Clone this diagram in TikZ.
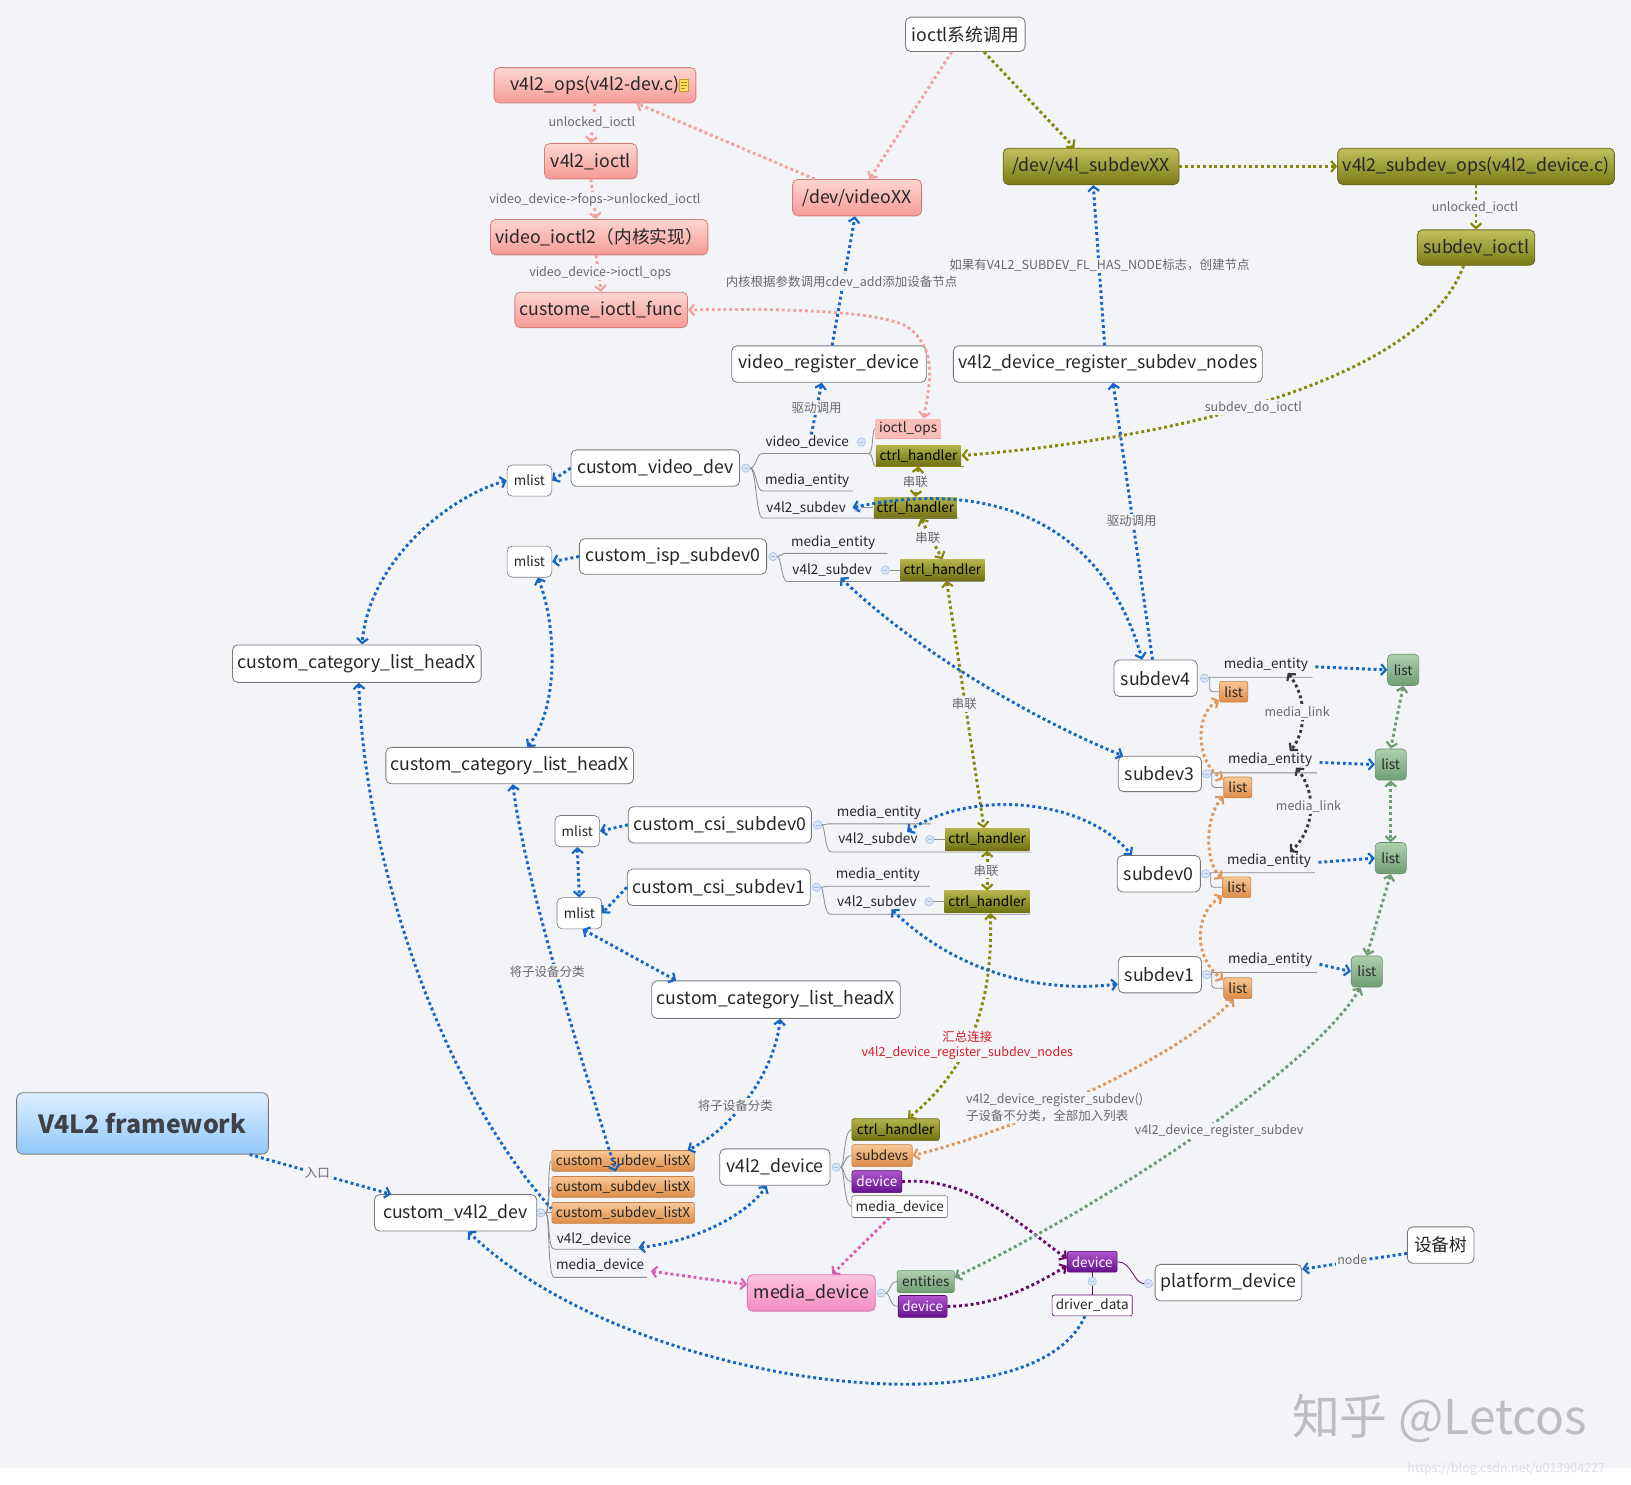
\documentclass[tikz,border=0pt]{standalone}
\usepackage{fontspec}
\setmainfont{Noto Sans CJK SC}
\usetikzlibrary{arrows.meta,calc}
\newcommand\myfs[1]{\fontsize{#1}{#1}\selectfont}
\definecolor{bg}{RGB}{242,244,248}
\definecolor{txt}{RGB}{38,38,38}
\definecolor{boxline}{RGB}{120,120,120}
\definecolor{lbl}{RGB}{105,105,105}
\definecolor{cblue}{RGB}{22,102,195}
\definecolor{cpink}{RGB}{243,160,158}
\definecolor{colive}{RGB}{135,135,10}
\definecolor{corange}{RGB}{225,150,90}
\definecolor{cgreen}{RGB}{110,155,115}
\definecolor{cpurple}{RGB}{105,10,105}
\definecolor{cmag}{RGB}{222,95,175}
\definecolor{cdark}{RGB}{55,55,60}
\definecolor{treec}{RGB}{140,140,140}
\definecolor{pinkT}{RGB}{253,214,208}
\definecolor{pinkB}{RGB}{245,155,150}
\definecolor{pinkD}{RGB}{215,125,120}
\definecolor{oliveT}{RGB}{192,192,95}
\definecolor{oliveB}{RGB}{122,122,22}
\definecolor{oliveD}{RGB}{105,105,25}
\definecolor{ctrlT}{RGB}{180,180,75}
\definecolor{ctrlB}{RGB}{112,112,15}
\definecolor{orT}{RGB}{248,200,150}
\definecolor{orB}{RGB}{220,140,72}
\definecolor{orD}{RGB}{200,128,70}
\definecolor{grT}{RGB}{175,208,175}
\definecolor{grB}{RGB}{112,158,115}
\definecolor{grD}{RGB}{105,145,108}
\definecolor{puT}{RGB}{175,85,205}
\definecolor{puB}{RGB}{100,18,140}
\definecolor{puD}{RGB}{85,10,105}
\definecolor{mdT}{RGB}{252,195,222}
\definecolor{mdB}{RGB}{244,140,195}
\definecolor{mdD}{RGB}{215,120,170}
\definecolor{fwT}{RGB}{222,239,255}
\definecolor{fwB}{RGB}{145,200,250}
\definecolor{mcD}{RGB}{165,190,232}
\definecolor{mcF}{RGB}{218,230,248}
\definecolor{iopF}{RGB}{250,190,186}
\tikzset{
 >={Straight Barb[length=4.6pt,width=10.5pt,line width=2.1pt]},
 conn/.style={line width=2.8pt, dash pattern=on 2.8pt off 2.8pt},
 mbox/.style={draw=boxline, fill=white, rounded corners=5pt, text=txt, font=\myfs{17}, inner sep=0pt, minimum height=35pt, line width=0.8pt},
 pinkbox/.style={mbox, draw=pinkD, top color=pinkT, bottom color=pinkB},
 olivebox/.style={mbox, draw=oliveD, top color=oliveT, bottom color=oliveB},
 sbox/.style={font=\myfs{13}, inner sep=0pt, minimum height=20pt, text=txt, line width=0.6pt},
 ctrlbox/.style={sbox, top color=ctrlT, bottom color=ctrlB, minimum width=81pt, text=black},
 orbox/.style={sbox, rounded corners=2pt, draw=orD, top color=orT, bottom color=orB},
 grbox/.style={sbox, rounded corners=4pt, draw=grD, top color=grT, bottom color=grB, minimum width=30pt, minimum height=30pt},
 pubox/.style={sbox, rounded corners=2pt, draw=puD, top color=puT, bottom color=puB, text=white},
 wsbox/.style={sbox, rounded corners=2pt, draw=boxline, fill=white},
 mlistbox/.style={sbox, rounded corners=5pt, draw=boxline, fill=white, minimum width=43pt, minimum height=30pt},
 subt/.style={font=\myfs{13}, text=txt, inner sep=1pt},
 lab/.style={font=\myfs{12}, text=lbl, fill=bg, inner sep=1.5pt},
 ul/.style={draw=treec, line width=0.8pt},
 mc/.style={circle, draw=mcD, fill=mcF, minimum size=8pt, inner sep=0pt, line width=0.6pt,
   path picture={\draw[mcD, line width=0.7pt] ([xshift=-2pt]path picture bounding box.center) -- ([xshift=2pt]path picture bounding box.center);}},
}
\begin{document}
\begin{tikzpicture}[x=1pt,y=-1pt]
\fill[white] (0,0) rectangle (1568,1427);
\fill[bg] (0,0) rectangle (1568,1411);
\useasboundingbox (0,0) rectangle (1568,1427);

% ---------- top nodes
\node[mbox, minimum width=115pt, minimum height=33pt] (ioctl) at (928,33) {ioctl系统调用};
\node[pinkbox, minimum width=194pt, minimum height=34pt] (v4l2ops) at (572,82) {v4l2\_ops(v4l2-dev.c)\hspace{19pt}};
\node[pinkbox, minimum width=89pt, minimum height=34pt] (v4l2ioctl) at (568,155) {v4l2\_ioctl};
\node[pinkbox, minimum width=209pt, minimum height=34pt] (videoioctl2) at (576,228) {video\_ioctl2（内核实现）};
\node[pinkbox, minimum width=166pt, minimum height=34pt] (custfunc) at (578,298) {custome\_ioctl\_func};
\node[pinkbox, minimum width=124pt] (devvideo) at (824,190) {/dev/videoXX};
\node[olivebox, minimum width=169pt] (devsub) at (1049,160) {/dev/v4l\_subdevXX};
\node[olivebox, minimum width=266pt] (subops) at (1419,160) {v4l2\_subdev\_ops(v4l2\_device.c)};
\node[olivebox, minimum width=113pt, minimum height=34pt] (subioctl) at (1419,238) {subdev\_ioctl};
\node[mbox, minimum width=187pt] (vrd) at (797,350) {video\_register\_device};
\node[mbox, minimum width=297pt] (vdrsn) at (1065,350) {v4l2\_device\_register\_subdev\_nodes};
% note icon
\draw[fill={rgb,255:red,250;green,222;blue,95}, draw={rgb,255:red,195;green,155;blue,40}, line width=0.5pt] (653,76) rectangle (662,88);
\draw[draw={rgb,255:red,175;green,135;blue,30}, line width=0.5pt] (655,79)--(660,79) (655,82)--(660,82) (655,85)--(659,85);

% ---------- custom_video_dev group
\node[mlistbox] (mlist1) at (509,462) {mlist};
\node[mbox, minimum width=162pt] (cvd) at (630,450) {custom\_video\_dev};
\node[mc] (m_cvd) at (717,450) {};
\node[subt] (cvdVD) at (776,425) {video\_device};
\node[mc] (m_cvdVD) at (828,425) {};
\node[sbox, fill=iopF, minimum width=63pt, minimum height=19pt] (ioctlops) at (873,412) {ioctl\_ops};
\node[ctrlbox, minimum width=82pt] (ctrl1) at (883,438) {ctrl\_handler};
\node[subt] (cvdME) at (776,462) {media\_entity};
\node[subt] (cvdSD) at (775,488) {v4l2\_subdev};
\node[mc] (m_cvdSD) at (824,488) {};
\node[ctrlbox, minimum width=80pt] (ctrl2) at (880,488) {ctrl\_handler};
\draw[ul] (m_cvd.east) .. controls (727,450) and (727,436) .. (733,436) -- (835,436);
\draw[ul] (m_cvd.east) .. controls (727,450) and (727,472) .. (733,472) -- (820,472);
\draw[ul] (m_cvd.east) .. controls (727,450) and (727,498) .. (733,498) -- (922,498);
\draw[ul] (835,436) .. controls (840,436) and (838,412) .. (ioctlops.west);
\draw[ul] (835,436) .. controls (840,436) and (838,447) .. (ctrl1.south west);
\draw[colive, line width=0.8pt] (ctrl1.south west) -- ([xshift=2pt]ctrl1.south east);
\draw[cpink, line width=0.8pt] (ioctlops.south west) -- (ioctlops.south east);
\draw[ul] (m_cvdSD.east) -- (ctrl2.west);

% ---------- isp group
\node[mlistbox] (mlist2) at (509,540) {mlist};
\node[mbox, minimum width=180pt, minimum height=34pt] (isp) at (647,535) {custom\_isp\_subdev0};
\node[mc] (m_isp) at (743,535) {};
\node[subt] (ispME) at (801,522) {media\_entity};
\node[subt] (ispSD) at (800,548) {v4l2\_subdev};
\node[mc] (m_ispSD) at (851,548) {};
\node[ctrlbox] (ctrl3) at (906,548) {ctrl\_handler};
\draw[ul] (m_isp.east) .. controls (751,535) and (751,532) .. (755,532) -- (853,532);
\draw[ul] (m_isp.east) .. controls (751,535) and (751,559) .. (757,559) -- (946,559);
\draw[ul] (m_ispSD.east) -- (ctrl3.west);

% ---------- category heads
\node[mbox, minimum width=239pt, minimum height=36pt] (head1) at (343,638) {custom\_category\_list\_headX};
\node[mbox, minimum width=238pt] (head2) at (490,736) {custom\_category\_list\_headX};
\node[mbox, minimum width=239pt, minimum height=36pt] (head3) at (746,961) {custom\_category\_list\_headX};

% ---------- subdevs
\node[mbox, minimum width=80pt] (sd4) at (1111,652) {subdev4};
\node[mc] (m_sd4) at (1158,652) {};
\node[subt] (sd4ME) at (1217,639) {media\_entity};
\node[orbox, minimum width=27pt] (list4o) at (1186,665) {list};
\node[grbox] (list4g) at (1349,644) {list};
\node[mbox, minimum width=80pt, minimum height=34pt] (sd3) at (1115,744) {subdev3};
\node[mc] (m_sd3) at (1160,744) {};
\node[subt] (sd3ME) at (1221,730) {media\_entity};
\node[orbox, minimum width=27pt] (list3o) at (1190,757) {list};
\node[grbox] (list3g) at (1337,735) {list};
\node[mbox, minimum width=80pt] (sd0) at (1114,840) {subdev0};
\node[mc] (m_sd0) at (1159,840) {};
\node[subt] (sd0ME) at (1220,827) {media\_entity};
\node[orbox, minimum width=27pt] (list0o) at (1189,853) {list};
\node[grbox] (list0g) at (1337,825) {list};
\node[mbox, minimum width=80pt] (sd1) at (1115,937) {subdev1};
\node[mc] (m_sd1) at (1160,937) {};
\node[subt] (sd1ME) at (1221,923) {media\_entity};
\node[orbox, minimum width=27pt] (list1o) at (1190,950) {list};
\node[grbox] (list1g) at (1314,934) {list};
\draw[ul] (m_sd4.east) -- (1163,651) -- (1262,651);
\draw[ul, rounded corners=3pt] (1163,651) |- (list4o.west);
\draw[ul] (m_sd3.east) -- (1165,743) -- (1266,743);
\draw[ul, rounded corners=3pt] (1165,743) |- (list3o.west);
\draw[ul] (m_sd0.east) -- (1164,839) -- (1264,839);
\draw[ul, rounded corners=3pt] (1164,839) |- (list0o.west);
\draw[ul] (m_sd1.east) -- (1165,935) -- (1266,935);
\draw[ul, rounded corners=3pt] (1165,935) |- (list1o.west);

% ---------- csi groups
\node[mlistbox] (mlist3) at (555,799) {mlist};
\node[mbox, minimum width=176pt] (csi0) at (692,793) {custom\_csi\_subdev0};
\node[mc] (m_csi0) at (786,793) {};
\node[subt] (csi0ME) at (845,781) {media\_entity};
\node[subt] (csi0SD) at (844,807) {v4l2\_subdev};
\node[mc] (m_csi0SD) at (894,807) {};
\node[ctrlbox, minimum height=21pt] (ctrl4) at (949,807) {ctrl\_handler};
\node[mbox, minimum width=176pt] (csi1) at (691,853) {custom\_csi\_subdev1};
\node[mc] (m_csi1) at (785,853) {};
\node[mlistbox] (mlist4) at (557,878) {mlist};
\node[subt] (csi1ME) at (844,841) {media\_entity};
\node[subt] (csi1SD) at (843,867) {v4l2\_subdev};
\node[mc] (m_csi1SD) at (893,867) {};
\node[ctrlbox, minimum width=82pt, minimum height=21pt] (ctrl5) at (949,867) {ctrl\_handler};
\draw[ul] (m_csi0.east) .. controls (793,793) and (793,792) .. (797,792) -- (895,792);
\draw[ul] (m_csi0.east) .. controls (793,793) and (793,819) .. (799,819) -- (991,819);
\draw[ul] (m_csi0SD.east) -- (ctrl4.west);
\draw[ul] (m_csi1.east) .. controls (792,853) and (792,852) .. (796,852) -- (894,852);
\draw[ul] (m_csi1.east) .. controls (792,853) and (792,879) .. (798,879) -- (990,879);
\draw[ul] (m_csi1SD.east) -- (ctrl5.west);

% ---------- bottom
\node[mbox, draw=boxline, top color=fwT, bottom color=fwB, rounded corners=6pt, minimum width=242pt, minimum height=59pt, font=\myfs{24}\bfseries, text={rgb,255:red,62;green,66;blue,72}] (v4l2fw) at (137,1080) {V4L2 framework};
\node[mbox, minimum width=156pt] (cv4l2) at (438,1166) {custom\_v4l2\_dev};
\node[mc] (m_cv) at (520,1166) {};
\node[orbox, minimum width=137pt] (csl1) at (599,1116) {custom\_subdev\_listX};
\node[orbox, minimum width=137pt] (csl2) at (599,1141) {custom\_subdev\_listX};
\node[orbox, minimum width=137pt] (csl3) at (599,1166) {custom\_subdev\_listX};
\node[subt] (cvV4) at (571,1191) {v4l2\_device};
\node[subt] (cvMD) at (577,1216) {media\_device};
\draw[ul] (m_cv.east) .. controls (529,1166) and (526,1116) .. (csl1.west);
\draw[ul] (m_cv.east) .. controls (529,1166) and (526,1141) .. (csl2.west);
\draw[ul] (m_cv.east) -- (csl3.west);
\draw[ul] (m_cv.east) .. controls (529,1166) and (526,1201) .. (533,1201) -- (620,1201);
\draw[ul] (m_cv.east) .. controls (529,1166) and (526,1228) .. (533,1228) -- (622,1228);

\node[mbox, minimum width=106pt] (v4l2dev) at (745,1122) {v4l2\_device};
\node[mc] (m_vd) at (804,1122) {};
\node[ctrlbox, rounded corners=2pt, draw=oliveD, minimum width=84pt, minimum height=21pt] (vdCtrl) at (861,1086) {ctrl\_handler};
\node[orbox, minimum width=58pt, minimum height=21pt] (vdSubs) at (848,1111) {subdevs};
\node[pubox, minimum width=48pt, minimum height=21pt] (vdDev) at (843,1136) {device};
\node[wsbox, minimum width=92pt, minimum height=21pt] (vdMD) at (865,1160) {media\_device};
\draw[ul] (m_vd.east) .. controls (812,1122) and (811,1086) .. (vdCtrl.west);
\draw[ul] (m_vd.east) .. controls (812,1122) and (811,1111) .. (vdSubs.west);
\draw[ul] (m_vd.east) .. controls (812,1122) and (811,1136) .. (vdDev.west);
\draw[ul] (m_vd.east) .. controls (812,1122) and (811,1160) .. (vdMD.west);

\node[mbox, draw=mdD, top color=mdT, bottom color=mdB, minimum width=123pt] (mdev) at (780,1243) {media\_device};
\node[mc] (m_md) at (847,1243) {};
\node[sbox, rounded corners=2pt, draw=grD, top color=grT, bottom color=grB, minimum width=55pt, minimum height=21pt] (mdEnt) at (890,1232) {entities};
\node[pubox, minimum width=47pt, minimum height=21pt] (mdDev) at (887,1256) {device};
\draw[ul] (m_md.east) .. controls (856,1243) and (855,1232) .. (mdEnt.west);
\draw[ul] (m_md.east) .. controls (856,1243) and (855,1256) .. (mdDev.west);

\node[pubox, minimum width=48pt] (pdDev) at (1050,1213) {device};
\node[mc] (m_pdd) at (1050,1232) {};
\node[wsbox, draw=puD, minimum width=77pt] (drv) at (1050,1255) {driver\_data};
\node[mbox, minimum width=141pt] (pdev) at (1181,1233) {platform\_device};
\node[mc] (m_pd) at (1104,1234) {};
\node[mbox, minimum width=64pt] (dtree) at (1385,1197) {设备树};
\draw[ul, draw=cpurple] (m_pd.west) .. controls (1090,1234) and (1088,1213) .. (pdDev.east);
\draw[ul, draw=cpurple] (pdDev.south) -- (m_pdd.north);
\draw[ul, draw=cpurple] (m_pdd.south) -- (drv.north);

% ---------- connectors: pink
\draw[conn,cpink,->] (v4l2ops.south) -- (v4l2ioctl.north);
\draw[conn,cpink,->] (v4l2ioctl.south) -- ([xshift=-3pt]videoioctl2.north);
\draw[conn,cpink,->] ([xshift=-3pt]videoioctl2.south) -- (custfunc.north);
\draw[conn,cpink,->] ([xshift=-41pt]devvideo.north) -- ([xshift=40pt]v4l2ops.south);
\draw[conn,cpink,->] ([xshift=-13pt]ioctl.south) -- ([xshift=12pt]devvideo.north);
\draw[conn,cpink,<->] ([xshift=15pt]ioctlops.north) .. controls (893,372) and (903,336) .. (872,314) .. controls (840,296) and (720,297) .. (custfunc.east);

% olive
\draw[conn,colive,->] ([xshift=18pt]ioctl.south) -- ([xshift=-16pt]devsub.north);
\draw[conn,colive,->] (devsub.east) -- (subops.west);
\draw[conn,colive,->] (subops.south) -- (subioctl.north);
\draw[conn,colive,->] ([xshift=-12pt]subioctl.south) .. controls (1370,360) and (1150,420) .. (ctrl1.east);
\draw[conn,colive,<->] (ctrl1.south) -- (ctrl2.north);
\draw[conn,colive,<->] ([xshift=5pt]ctrl2.south) -- (ctrl3.north);
\draw[conn,colive,<->] ([xshift=4pt]ctrl3.south) -- ([xshift=-3pt]ctrl4.north);
\draw[conn,colive,<->] (ctrl4.south) -- (ctrl5.north);
\draw[conn,colive,<->] ([xshift=3pt]ctrl5.south) .. controls (955,960) and (935,1025) .. ([xshift=12pt]vdCtrl.north);

% blue
\draw[conn,cblue,->] ([xshift=3pt]vrd.north) -- ([xshift=-2pt]devvideo.south);
\draw[conn,cblue,->] ([xshift=4pt]cvdVD.north) -- ([xshift=-7pt]vrd.south);
\draw[conn,cblue,->] ([xshift=-3pt]vdrsn.north) -- ([xshift=2pt]devsub.south);
\draw[conn,cblue,->] ([xshift=-3pt]sd4.north) -- ([xshift=5pt]vdrsn.south);
\draw[conn,cblue,<->] (m_cvdSD.west) .. controls (950,460) and (1060,500) .. ([xshift=-13pt]sd4.north);
\draw[conn,cblue,<->] ([xshift=8pt]ispSD.south) .. controls (880,625) and (990,690) .. ([xshift=5pt]sd3.north west);
\draw[conn,cblue,<->] ([xshift=28pt]csi0SD.north) .. controls (930,760) and (1040,765) .. ([xshift=-26pt]sd0.north);
\draw[conn,cblue,<->] ([xshift=14pt]csi1SD.south) .. controls (920,935) and (1000,955) .. ([yshift=-9pt]sd1.west);
\draw[conn,cblue,->] (cvd.west) -- (mlist1.east);
\draw[conn,cblue,->] (isp.west) -- (mlist2.east);
\draw[conn,cblue,<->] (mlist1.west) .. controls (430,478) and (355,540) .. ([xshift=5pt]head1.north);
\draw[conn,cblue,<->] ([xshift=8pt]mlist2.south) .. controls (535,600) and (538,680) .. ([xshift=17pt]head2.north);
\draw[conn,cblue,<-] ([xshift=2pt]head1.south) .. controls (350,820) and (420,1040) .. ([yshift=4pt]csl3.west);
\draw[conn,cblue,<->] ([xshift=3pt]head2.south) .. controls (505,850) and (560,1020) .. ([xshift=-7pt]csl1.south);
\draw[conn,cblue,<->] ([xshift=4pt]head3.south) .. controls (745,1030) and (705,1085) .. ([xshift=62pt]csl1.north);
\draw[conn,cblue,->] (csi0.west) -- (mlist3.east);
\draw[conn,cblue,->] (csi1.west) -- (mlist4.east);
\draw[conn,cblue,<->] (mlist3.south) -- (mlist4.north);
\draw[conn,cblue,<->] ([xshift=3pt]mlist4.south) -- ([xshift=-96pt]head3.north);
\draw[conn,cblue,->] ([xshift=103pt]v4l2fw.south) -- ([xshift=-62pt]cv4l2.north);
\draw[conn,cblue,<->] ([xshift=6pt,yshift=-1pt]cvV4.south east) .. controls (660,1195) and (715,1172) .. ([xshift=-8pt]v4l2dev.south);
\draw[conn,cmag,<->] ([xshift=5pt,yshift=-6pt]cvMD.east) -- ([yshift=8pt]mdev.west);
\draw[conn,cmag,->] ([xshift=-10pt]vdMD.south) -- ([xshift=20pt]mdev.north);
\draw[conn,cblue,->] ([xshift=-7pt]drv.south) .. controls (990,1385) and (600,1330) .. ([xshift=12pt]cv4l2.south);
\draw[conn,cblue,->] ([yshift=-8pt]dtree.west) -- ([yshift=-5pt]pdev.north east);
\draw[conn,cblue,->] ([xshift=6pt,yshift=-2pt]sd4ME.east) -- (list4g.west);
\draw[conn,cblue,->] ([xshift=6pt,yshift=-3pt]sd3ME.east) -- (list3g.west);
\draw[conn,cblue,->] ([xshift=6pt,yshift=-2pt]sd0ME.east) -- (list0g.west);
\draw[conn,cblue,->] ([xshift=6pt,yshift=-4pt]sd1ME.east) -- (list1g.west);

% purple
\draw[conn,cpurple,->] (vdDev.east) .. controls (935,1130) and (990,1185) .. ([yshift=3pt]pdDev.west);
\draw[conn,cpurple,->] (mdDev.east) .. controls (960,1255) and (995,1235) .. ([yshift=-4pt]pdDev.west);

% orange
\draw[conn,corange,<->] ([yshift=2pt]list4o.south west) .. controls (1148,685) and (1150,735) .. ([yshift=-2pt]list3o.north west);
\draw[conn,corange,<->] ([yshift=2pt]list3o.south west) .. controls (1158,785) and (1158,830) .. ([yshift=-2pt]list0o.north west);
\draw[conn,corange,<->] ([yshift=2pt]list0o.south west) .. controls (1145,880) and (1150,925) .. ([yshift=-2pt]list1o.north west);
\draw[conn,corange,<->] ([xshift=-4pt]list1o.south) .. controls (1140,1010) and (1000,1080) .. (vdSubs.east);

% green
\draw[conn,cgreen,<->] (list4g.south) -- (list3g.north);
\draw[conn,cgreen,<->] (list3g.south) -- (list0g.north);
\draw[conn,cgreen,<->] (list0g.south) -- (list1g.north);
\draw[conn,cgreen,<->] ([xshift=-6pt]list1g.south) .. controls (1260,1030) and (1050,1165) .. ([yshift=4pt]mdEnt.east);

% dark media_link
\draw[conn,cdark,<->] ([xshift=21pt]sd4ME.south) .. controls (1258,672) and (1255,705) .. ([xshift=19pt]sd3ME.north);
\draw[conn,cdark,<->] ([xshift=25pt]sd3ME.south) .. controls (1268,765) and (1262,800) .. ([xshift=20pt]sd0ME.north);

% ---------- labels
\node[lab] (l1) at (569,118) {unlocked\_ioctl};
\node[lab] (l2) at (572,192) {video\_device->fops->unlocked\_ioctl};
\node[lab] (l3) at (577,262) {video\_device->ioctl\_ops};
\node[lab] (l4) at (809,271) {内核根据参数调用cdev\_add添加设备节点};
\node[lab] (l5) at (1057,255) {如果有V4L2\_SUBDEV\_FL\_HAS\_NODE标志，创建节点};
\node[lab] (l6) at (1418,199) {unlocked\_ioctl};
\node[lab] (l7) at (1205,392) {subdev\_do\_ioctl};
\node[lab] (l8) at (785,392) {驱动调用};
\node[lab] (l9) at (1088,501) {驱动调用};
\node[lab] (l10) at (880,463) {串联};
\node[lab] (l11) at (892,517) {串联};
\node[lab] (l12) at (927,677) {串联};
\node[lab] (l13) at (948,837) {串联};
\node[lab] (l14) at (1247,685) {media\_link};
\node[lab] (l15) at (1258,775) {media\_link};
\node[lab] (l16) at (526,934) {将子设备分类};
\node[lab] (l17) at (707,1063) {将子设备分类};
\node[lab, text={rgb,255:red,215;green,30;blue,40}, align=center, font=\fontsize{12}{15}\selectfont] (l18) at (930,1005) {汇总连接\\v4l2\_device\_register\_subdev\_nodes};
\node[lab, align=left, anchor=west, font=\fontsize{12}{16}\selectfont] (l19) at (927,1065) {v4l2\_device\_register\_subdev()\\子设备不分类，全部加入列表};
\node[lab] (l20) at (1172,1087) {v4l2\_device\_register\_subdev};
\node[lab] (l21) at (305,1128) {入口};
\node[lab] (l22) at (1300,1211) {node};

% ---------- watermark
\node[font=\myfs{46}, text={rgb,255:red,188;green,188;blue,193}] (wm) at (1384,1364) {知乎 @Letcos};
\node[font=\myfs{12}, text={rgb,255:red,218;green,220;blue,226}] (url) at (1448,1412) {https://blog.csdn.net/u013904227};
\end{tikzpicture}
\end{document}
